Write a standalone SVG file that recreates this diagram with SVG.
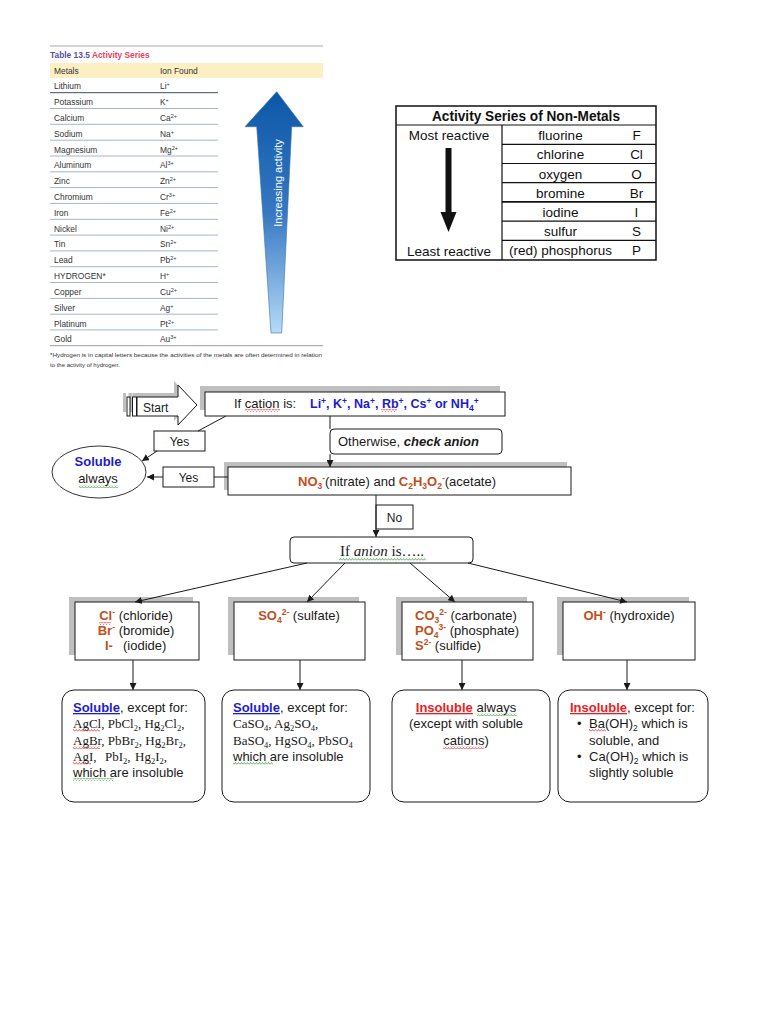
<svg xmlns="http://www.w3.org/2000/svg" width="768" height="1024" viewBox="0 0 768 1024">
<style>
text{font-family:"Liberation Sans",Arial,sans-serif}
.mt{font-size:8.4px;fill:#333}
.ms{font-size:5.5px}
.nm{font-size:13.5px;fill:#111}
.fc{font-size:13px;fill:#1a1a1a}
.y{font-size:12px;fill:#1a1a1a}
.ser{font-family:"Liberation Serif","Times New Roman",serif;font-size:13px;fill:#1a1a1a}
.box{fill:#fff;stroke:#1a1a1a;stroke-width:1}
.sh{fill:#bfbfbf}
.conn{stroke:#1a1a1a;stroke-width:1;fill:none}
.cb{font-size:12.5px;font-weight:bold;fill:#1c1cd2}
.an{font-weight:bold;fill:#c0501c}
.blu{font-weight:bold;fill:#1c1cd2;text-decoration:underline}
.sol{font-weight:bold;fill:#1c1cd2}
.red{font-weight:bold;fill:#ec1c24;text-decoration:underline}
.sb{font-size:8.5px}
.sp{font-size:8.5px}
.rl{stroke:#8fa0c6;stroke-width:0.8}
.tl{stroke:#111;stroke-width:1.2}
</style>
<defs>
<marker id="ah" viewBox="0 0 10 10" refX="10" refY="5" markerWidth="7" markerHeight="7" markerUnits="userSpaceOnUse" orient="auto"><path d="M0,0 L10,5 L0,10 z" fill="#1a1a1a"/></marker>
<linearGradient id="ag" x1="0" y1="0" x2="0" y2="1"><stop offset="0" stop-color="#0b58a8"/><stop offset="0.5" stop-color="#3677c2"/><stop offset="1" stop-color="#b5dbf7"/></linearGradient>
<pattern id="sqR" width="3" height="3" patternUnits="userSpaceOnUse"><path d="M0,2.5 L1.5,0.5 L3,2.5" fill="none" stroke="#e02020" stroke-width="0.7"/></pattern>
<pattern id="sqG" width="3" height="3" patternUnits="userSpaceOnUse"><path d="M0,2.5 L1.5,0.5 L3,2.5" fill="none" stroke="#2a9a2a" stroke-width="0.7"/></pattern>
<g id="startShape"><rect x="127" y="397" width="3" height="19"/><rect x="132.5" y="397" width="4" height="19"/><polygon points="137,397 178,397 178,385 197,405 178,425 178,416 137,416"/></g>
</defs>
<rect width="768" height="1024" fill="#fff"/>

<!-- Table 13.5 -->
<g id="table-metals">
<line x1="50" y1="46" x2="323" y2="46" stroke="#c4c4d4" stroke-width="1.5"/>
<text x="50" y="58" font-size="8.4" font-weight="bold"><tspan fill="#5b4f9e">Table 13.5 </tspan><tspan fill="#e8425c">Activity Series</tspan></text>
<rect x="50" y="63" width="273" height="15" fill="#fcefc4"/>
<text x="54" y="74" class="mt">Metals</text>
<text x="160" y="74" class="mt">Ion Found</text>
<line x1="50" y1="92.7" x2="218" y2="92.7" stroke="#3b4a6b" stroke-width="1"/>
<line x1="50" y1="108.5" x2="218" y2="108.5" class="rl"/>
<line x1="50" y1="124.3" x2="218" y2="124.3" class="rl"/>
<line x1="50" y1="140.2" x2="218" y2="140.2" class="rl"/>
<line x1="50" y1="156" x2="218" y2="156" class="rl"/>
<line x1="50" y1="171.8" x2="218" y2="171.8" class="rl"/>
<line x1="50" y1="187.6" x2="218" y2="187.6" class="rl"/>
<line x1="50" y1="203.4" x2="218" y2="203.4" class="rl"/>
<line x1="50" y1="219.3" x2="218" y2="219.3" class="rl"/>
<line x1="50" y1="235.1" x2="218" y2="235.1" class="rl"/>
<line x1="50" y1="250.9" x2="218" y2="250.9" class="rl"/>
<line x1="50" y1="266.7" x2="218" y2="266.7" class="rl"/>
<line x1="50" y1="282.5" x2="218" y2="282.5" class="rl"/>
<line x1="50" y1="298.4" x2="218" y2="298.4" class="rl"/>
<line x1="50" y1="314.2" x2="218" y2="314.2" class="rl"/>
<line x1="50" y1="329.9" x2="218" y2="329.9" class="rl"/>
<line x1="50" y1="345.7" x2="323" y2="345.7" stroke="#b0b0bc" stroke-width="1.2"/>
<g class="mt">
<text x="54" y="89.2">Lithium</text>
<text x="54" y="105">Potassium</text>
<text x="54" y="120.8">Calcium</text>
<text x="54" y="136.7">Sodium</text>
<text x="54" y="152.5">Magnesium</text>
<text x="54" y="168.3">Aluminum</text>
<text x="54" y="184.1">Zinc</text>
<text x="54" y="199.9">Chromium</text>
<text x="54" y="215.8">Iron</text>
<text x="54" y="231.6">Nickel</text>
<text x="54" y="247.4">Tin</text>
<text x="54" y="263.2">Lead</text>
<text x="54" y="279">HYDROGEN*</text>
<text x="54" y="294.9">Copper</text>
<text x="54" y="310.7">Silver</text>
<text x="54" y="326.5">Platinum</text>
<text x="54" y="342.3">Gold</text>
<text x="160" y="89.2">Li<tspan class="ms" dy="-3">+</tspan></text>
<text x="160" y="105">K<tspan class="ms" dy="-3">+</tspan></text>
<text x="160" y="120.8">Ca<tspan class="ms" dy="-3">2+</tspan></text>
<text x="160" y="136.7">Na<tspan class="ms" dy="-3">+</tspan></text>
<text x="160" y="152.5">Mg<tspan class="ms" dy="-3">2+</tspan></text>
<text x="160" y="168.3">Al<tspan class="ms" dy="-3">3+</tspan></text>
<text x="160" y="184.1">Zn<tspan class="ms" dy="-3">2+</tspan></text>
<text x="160" y="199.9">Cr<tspan class="ms" dy="-3">3+</tspan></text>
<text x="160" y="215.8">Fe<tspan class="ms" dy="-3">2+</tspan></text>
<text x="160" y="231.6">Ni<tspan class="ms" dy="-3">2+</tspan></text>
<text x="160" y="247.4">Sn<tspan class="ms" dy="-3">2+</tspan></text>
<text x="160" y="263.2">Pb<tspan class="ms" dy="-3">2+</tspan></text>
<text x="160" y="279">H<tspan class="ms" dy="-3">+</tspan></text>
<text x="160" y="294.9">Cu<tspan class="ms" dy="-3">2+</tspan></text>
<text x="160" y="310.7">Ag<tspan class="ms" dy="-3">+</tspan></text>
<text x="160" y="326.5">Pt<tspan class="ms" dy="-3">2+</tspan></text>
<text x="160" y="342.3">Au<tspan class="ms" dy="-3">3+</tspan></text>
</g>
<text x="50" y="357" font-size="6" fill="#333" textLength="272" lengthAdjust="spacingAndGlyphs">*Hydrogen is in capital letters because the activities of the metals are often determined in relation</text>
<text x="50" y="366.5" font-size="6" fill="#333">to the activity of hydrogen.</text>
</g>

<g id="increasing-arrow">
<polygon points="276.7,91.7 303.3,126.7 291.7,126.7 281.7,333 271,333 256.7,126.7 245,126.7" fill="url(#ag)" stroke="#3a72b0" stroke-width="0.6"/>
<text transform="translate(282,183) rotate(-90)" text-anchor="middle" font-size="11" fill="#fff">Increasing activity</text>
</g>

<!-- Non-metals table -->
<g id="table-nonmetals">
<rect x="396" y="106" width="260" height="154" fill="#fff" stroke="#111" stroke-width="1.5"/>
<line x1="396" y1="125" x2="656" y2="125" class="tl"/>
<line x1="502" y1="125" x2="502" y2="260" class="tl"/>
<line x1="502" y1="144.3" x2="656" y2="144.3" class="tl"/>
<line x1="502" y1="163.5" x2="656" y2="163.5" class="tl"/>
<line x1="502" y1="182.7" x2="656" y2="182.7" class="tl"/>
<line x1="502" y1="201.9" x2="656" y2="201.9" stroke="#111" stroke-width="1.8"/>
<line x1="502" y1="221.1" x2="656" y2="221.1" class="tl"/>
<line x1="502" y1="240.3" x2="656" y2="240.3" class="tl"/>
<text x="526" y="121" text-anchor="middle" font-size="15" font-weight="bold" fill="#111" textLength="188" lengthAdjust="spacingAndGlyphs">Activity Series of Non-Metals</text>
<text x="449" y="140" text-anchor="middle" class="nm">Most reactive</text>
<text x="449" y="255.5" text-anchor="middle" class="nm">Least reactive</text>
<rect x="445.5" y="148" width="6" height="65" fill="#111"/>
<polygon points="440.5,212 456.5,212 448.5,232" fill="#111"/>
<g class="nm" text-anchor="middle">
<text x="560.5" y="140">fluorine</text>
<text x="560.5" y="159.3">chlorine</text>
<text x="560.5" y="178.5">oxygen</text>
<text x="560.5" y="197.7">bromine</text>
<text x="560.5" y="216.9">iodine</text>
<text x="560.5" y="236.1">sulfur</text>
<text x="560.5" y="255.3">(red) phosphorus</text>
<text x="636.5" y="140">F</text>
<text x="636.5" y="159.3">Cl</text>
<text x="636.5" y="178.5">O</text>
<text x="636.5" y="197.7">Br</text>
<text x="636.5" y="216.9">I</text>
<text x="636.5" y="236.1">S</text>
<text x="636.5" y="255.3">P</text>
</g>
</g>

<!-- Flowchart -->
<g id="start">
<use href="#startShape" transform="translate(-4,-4)" fill="#bfbfbf"/>
<use href="#startShape" fill="#fff" stroke="#1a1a1a" stroke-width="1"/>
<text x="143" y="411.5" class="y" font-size="13">Start</text>
</g>

<g id="cation">
<rect x="200" y="386" width="300" height="24" class="sh"/>
<rect x="205" y="392" width="300" height="24" class="box"/>
<text x="234" y="408" class="fc" fill="#333">If cation is:</text>
<rect x="245" y="409" width="35" height="3" fill="url(#sqR)"/>
<text x="310" y="408" class="cb">Li<tspan class="sp" dy="-4">+</tspan><tspan dy="4">, K</tspan><tspan class="sp" dy="-4">+</tspan><tspan dy="4">, Na</tspan><tspan class="sp" dy="-4">+</tspan><tspan dy="4">, Rb</tspan><tspan class="sp" dy="-4">+</tspan><tspan dy="4">, Cs</tspan><tspan class="sp" dy="-4">+</tspan><tspan dy="4"> or NH</tspan><tspan class="sb" dy="3">4</tspan><tspan class="sp" dy="-7">+</tspan></text>
<rect x="381" y="409" width="16" height="3" fill="url(#sqR)"/>
</g>

<g id="yes1">
<rect x="154" y="431" width="51" height="20" class="box"/>
<text x="179.5" y="446" text-anchor="middle" class="y">Yes</text>
</g>

<g id="soluble-always">
<ellipse cx="99" cy="472" rx="47" ry="26" fill="#fff" stroke="#333" stroke-width="1"/>
<text x="98" y="466" text-anchor="middle" class="fc sol">Soluble</text>
<text x="98" y="483" text-anchor="middle" class="fc">always</text>
<rect x="79" y="485" width="39" height="3" fill="url(#sqG)"/>
</g>

<g id="otherwise">
<rect x="330" y="429" width="172" height="25" rx="4" class="box"/>
<text x="338" y="446" class="fc" font-size="12.5">Otherwise, <tspan font-weight="bold" font-style="italic">check anion</tspan></text>
</g>

<g id="yes2">
<rect x="163" y="467" width="51" height="20" class="box"/>
<text x="188.5" y="482" text-anchor="middle" class="y">Yes</text>
</g>

<g id="nitrate">
<rect x="224" y="462" width="343" height="28" class="sh"/>
<rect x="228" y="467" width="343" height="28" class="box"/>
<text x="298" y="486" class="fc" font-size="12.5"><tspan class="an">NO</tspan><tspan class="an sb" dy="3">3</tspan><tspan class="an sp" dy="-8">-</tspan><tspan dy="5">(nitrate) and </tspan><tspan class="an">C</tspan><tspan class="an sb" dy="3">2</tspan><tspan class="an" dy="-3">H</tspan><tspan class="an sb" dy="3">3</tspan><tspan class="an" dy="-3">O</tspan><tspan class="an sb" dy="3">2</tspan><tspan class="an sp" dy="-8">-</tspan><tspan dy="5">(acetate)</tspan></text>
</g>

<g id="no">
<rect x="376" y="505" width="37" height="24" class="box"/>
<text x="394.5" y="522" text-anchor="middle" class="y" font-size="13">No</text>
</g>

<g id="if-anion">
<rect x="290" y="537" width="183" height="26" rx="4" class="box"/>
<text x="382" y="556" text-anchor="middle" font-size="15" fill="#1a1a1a" style="font-family:'Liberation Serif',serif">If <tspan font-style="italic">anion</tspan> is…..</text>
<rect x="339" y="558" width="87" height="3" fill="url(#sqG)"/>
</g>

<g id="anion-halide">
<rect x="69" y="597" width="124" height="58" class="sh"/>
<rect x="75" y="602" width="124" height="58" class="box"/>
<text x="136" y="620" text-anchor="middle" class="fc"><tspan class="an">Cl</tspan><tspan class="an sp" dy="-5">-</tspan><tspan dy="5"> (chloride)</tspan></text>
<rect x="99" y="622" width="12" height="3" fill="url(#sqR)"/>
<text x="136" y="635" text-anchor="middle" class="fc"><tspan class="an">Br</tspan><tspan class="an sp" dy="-5">-</tspan><tspan dy="5"> (bromide)</tspan></text>
<text x="105" y="650" class="fc"><tspan class="an">I-</tspan><tspan x="123">(iodide)</tspan></text>
</g>

<g id="anion-sulfate">
<rect x="228" y="597" width="131" height="58" class="sh"/>
<rect x="234" y="602" width="131" height="58" class="box"/>
<text x="299" y="620" text-anchor="middle" class="fc"><tspan class="an">SO</tspan><tspan class="an sb" dy="3">4</tspan><tspan class="an sp" dy="-8">2-</tspan><tspan dy="5"> (sulfate)</tspan></text>
</g>

<g id="anion-carbonate">
<rect x="396" y="597" width="131" height="58" class="sh"/>
<rect x="402" y="602" width="131" height="58" class="box"/>
<text x="415" y="620" class="fc"><tspan class="an">CO</tspan><tspan class="an sb" dy="3">3</tspan><tspan class="an sp" dy="-8">2-</tspan><tspan dy="5"> (carbonate)</tspan></text>
<text x="415" y="635" class="fc"><tspan class="an">PO</tspan><tspan class="an sb" dy="3">4</tspan><tspan class="an sp" dy="-8">3-</tspan><tspan dy="5"> (phosphate)</tspan></text>
<text x="415" y="650" class="fc"><tspan class="an">S</tspan><tspan class="an sp" dy="-5">2-</tspan><tspan dy="5"> (sulfide)</tspan></text>
</g>

<g id="anion-hydroxide">
<rect x="557" y="597" width="132" height="58" class="sh"/>
<rect x="563" y="602" width="132" height="58" class="box"/>
<text x="629" y="620" text-anchor="middle" class="fc"><tspan class="an">OH</tspan><tspan class="an sp" dy="-5">-</tspan><tspan dy="5"> (hydroxide)</tspan></text>
</g>

<g id="rule-halide">
<rect x="62" y="690" width="143" height="112" rx="12" class="box"/>
<text x="73" y="712" class="fc"><tspan class="blu">Soluble</tspan>, except for:</text>
<text x="73" y="728" class="ser">AgCl, PbCl<tspan class="sb" dy="3">2</tspan><tspan dy="-3">, Hg</tspan><tspan class="sb" dy="3">2</tspan><tspan dy="-3">Cl</tspan><tspan class="sb" dy="3">2</tspan><tspan dy="-3">,</tspan></text>
<text x="73" y="745" class="ser">AgBr, PbBr<tspan class="sb" dy="3">2</tspan><tspan dy="-3">, Hg</tspan><tspan class="sb" dy="3">2</tspan><tspan dy="-3">Br</tspan><tspan class="sb" dy="3">2</tspan><tspan dy="-3">,</tspan></text>
<text x="73" y="761" class="ser">AgI,</text>
<text x="105" y="761" class="ser">PbI<tspan class="sb" dy="3">2</tspan><tspan dy="-3">,</tspan></text>
<text x="135" y="761" class="ser">Hg<tspan class="sb" dy="3">2</tspan><tspan dy="-3">I</tspan><tspan class="sb" dy="3">2</tspan><tspan dy="-3">,</tspan></text>
<text x="73" y="777" class="fc">which are insoluble</text>
<rect x="73" y="729" width="27" height="3" fill="url(#sqR)"/>
<rect x="73" y="746" width="27" height="3" fill="url(#sqR)"/>
<rect x="73" y="762" width="18" height="3" fill="url(#sqR)"/>
<rect x="73" y="778" width="40" height="3" fill="url(#sqG)"/>
</g>

<g id="rule-sulfate">
<rect x="222" y="690" width="148" height="112" rx="12" class="box"/>
<text x="233" y="712" class="fc"><tspan class="blu">Soluble</tspan>, except for:</text>
<text x="233" y="728" class="ser">CaSO<tspan class="sb" dy="3">4</tspan><tspan dy="-3">, Ag</tspan><tspan class="sb" dy="3">2</tspan><tspan dy="-3">SO</tspan><tspan class="sb" dy="3">4</tspan><tspan dy="-3">,</tspan></text>
<text x="233" y="745" class="ser">BaSO<tspan class="sb" dy="3">4</tspan><tspan dy="-3">, HgSO</tspan><tspan class="sb" dy="3">4</tspan><tspan dy="-3">, PbSO</tspan><tspan class="sb" dy="3">4</tspan></text>
<text x="233" y="761" class="fc">which are insoluble</text>
<rect x="233" y="762" width="40" height="3" fill="url(#sqG)"/>
</g>

<g id="rule-carbonate">
<rect x="392" y="690" width="158" height="112" rx="12" class="box"/>
<text x="466" y="712" text-anchor="middle" class="fc"><tspan class="red">Insoluble</tspan> always</text>
<rect x="477" y="713" width="40" height="3" fill="url(#sqG)"/>
<text x="466" y="728" text-anchor="middle" class="fc">(except with soluble</text>
<text x="466" y="745" text-anchor="middle" class="fc">cations)</text>
<rect x="443" y="746" width="41" height="3" fill="url(#sqR)"/>
</g>

<g id="rule-hydroxide">
<rect x="558" y="690" width="150" height="112" rx="12" class="box"/>
<text x="570" y="712" class="fc"><tspan class="red">Insoluble</tspan>, except for:</text>
<text x="577" y="728" class="fc">•</text>
<text x="589" y="728" class="fc">Ba(OH)<tspan class="sb" dy="3">2</tspan><tspan dy="-3"> which is</tspan></text>
<rect x="589" y="729" width="17" height="3" fill="url(#sqR)"/>
<text x="589" y="745" class="fc">soluble, and</text>
<text x="577" y="761" class="fc">•</text>
<text x="589" y="761" class="fc">Ca(OH)<tspan class="sb" dy="3">2</tspan><tspan dy="-3"> which is</tspan></text>
<text x="589" y="777" class="fc">slightly soluble</text>
</g>

<g id="connectors" class="conn">
<line x1="226" y1="416" x2="198" y2="431"/>
<line x1="157" y1="451" x2="142" y2="461" marker-end="url(#ah)"/>
<line x1="330" y1="416" x2="330" y2="429"/>
<line x1="330" y1="454" x2="330" y2="467" marker-end="url(#ah)"/>
<line x1="228" y1="477" x2="214" y2="477"/>
<line x1="163" y1="477" x2="147" y2="477" marker-end="url(#ah)"/>
<line x1="376" y1="495" x2="376" y2="537" marker-end="url(#ah)"/>
<line x1="307" y1="563" x2="135" y2="602" marker-end="url(#ah)"/>
<line x1="345" y1="563" x2="307" y2="602" marker-end="url(#ah)"/>
<line x1="410" y1="563" x2="455" y2="602" marker-end="url(#ah)"/>
<line x1="468" y1="563" x2="627" y2="602" marker-end="url(#ah)"/>
<line x1="133" y1="660" x2="133" y2="690" marker-end="url(#ah)"/>
<line x1="300" y1="660" x2="300" y2="690" marker-end="url(#ah)"/>
<line x1="462" y1="660" x2="462" y2="690" marker-end="url(#ah)"/>
<line x1="627" y1="660" x2="627" y2="690" marker-end="url(#ah)"/>
</g>
</svg>
